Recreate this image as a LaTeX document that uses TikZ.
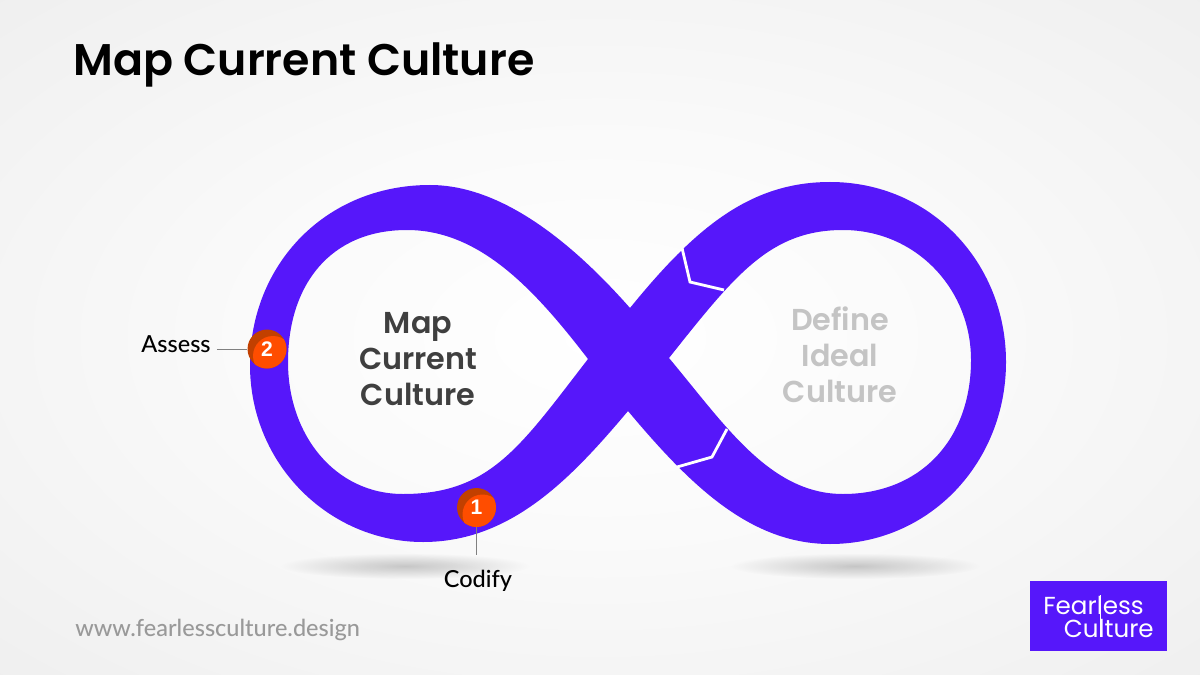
\documentclass[tikz,border=0pt]{standalone}
\usepackage{fontspec}
\setmainfont{Poppins}
\newfontfamily\headfont{Poppins SemiBold}
\newfontfamily\labelfont{Lato Medium}
\usetikzlibrary{fadings}
\definecolor{bandviolet}{HTML}{5617FA}
\definecolor{badgeorange}{HTML}{FF4D00}
\definecolor{badgedark}{HTML}{C24000}
\definecolor{palegray}{HTML}{C4C4C4}
\definecolor{darkgray}{HTML}{3F3F3F}
\pgfdeclareradialshading{softback}{\pgfpointorigin}{color(0bp)=(white); color(15bp)=(black!2); color(25bp)=(black!4); color(35bp)=(black!6); color(50bp)=(black!11); color(71bp)=(black!11)}
\tikzfading[name=softfade,inner color=transparent!0,outer color=transparent!100]
\tikzset{
    lobelabel/.style={align=center,font=\headfont\fontsize{21.5}{25.6}\selectfont},
    steplabel/.style={font=\labelfont\fontsize{16.7}{18}\selectfont,text=black,inner sep=4.3pt},
    badge/.style={circle,minimum size=27.7pt,inner sep=0pt,text=white,font=\fontspec{Liberation Sans}\bfseries\fontsize{15}{15}\selectfont},
    leader/.style={draw=gray,line width=0.6pt},
    cutline/.style={draw=white,line width=2pt},
    floorshadow/.style={fill=black,opacity=0.2,path fading=softfade},
    logotext/.style={anchor=west,inner sep=0pt,text=white,font=\fontsize{17.5}{20}\selectfont}
}
\begin{document}
\begin{tikzpicture}[x=0.025cm,y=-0.025cm]
    % background
    \useasboundingbox (0,0) rectangle (1200,675);
    \shade[shading=softback] (0,0) rectangle (1200,675);

    % shadows on the floor
    \fill[floorshadow] (405,566) ellipse (125 and 13);
    \fill[floorshadow] (855,566) ellipse (125 and 13);

    % infinity band
    \fill[bandviolet,even odd rule]
        (630,308) .. controls (570,240) and (500,185) .. (430,185)
        .. controls (325,185) and (250,265) .. (250,365)
        .. controls (250,465) and (330,542) .. (423,542)
        .. controls (510,542) and (570,480) .. (628,411)
        .. controls (690,485) and (750,544) .. (830,544)
        .. controls (930,544) and (1006,462) .. (1006,362)
        .. controls (1006,262) and (930,182) .. (830,182)
        .. controls (750,182) and (695,228) .. (630,308) -- cycle
        (588,359) .. controls (535,290) and (480,230) .. (407,230)
        .. controls (330,230) and (288,285) .. (288,362)
        .. controls (288,435) and (335,494) .. (403,494)
        .. controls (490,494) and (520,447) .. (588,359) -- cycle
        (669,358) .. controls (735,275) and (770,230) .. (843,230)
        .. controls (915,230) and (971,288) .. (971,360)
        .. controls (971,440) and (920,494) .. (843,494)
        .. controls (770,494) and (725,425) .. (669,358) -- cycle;

    % cuts between the two lobes
    \draw[cutline] (682,248) -- (690,282) -- (724,290);
    \draw[cutline] (677,467) -- (712,457) -- (727,429);

    % lobe labels
    \node[lobelabel,text=darkgray] (mapculture) at (418,359) {Map\\Current\\Culture};
    \node[lobelabel,text=palegray] (idealculture) at (840,355) {Define\\Ideal\\Culture};

    % badges
    \node[badge,fill=badgedark] (assessbadge) at (267,349) {};
    \node[badge,fill=badgedark] (codifybadge) at (476.5,507.5) {};
    \begin{scope}
        \clip (267,349) circle (19.5);
        \fill[badgeorange] (273,356) circle (20);
    \end{scope}
    \begin{scope}
        \clip (476.5,507.5) circle (19.5);
        \fill[badgeorange] (482.5,514.5) circle (20);
    \end{scope}
    \node[badge] (assessnum) at (267,349) {2};
    \node[badge] (codifynum) at (476.5,507.5) {1};

    % step labels
    \node[steplabel] (assess) at (176,344.5) {Assess};
    \node[steplabel] (codify) at (478,581) {Codify};
    \draw[leader] (assess.east |- assessbadge) -- (assessbadge);
    \draw[leader,shorten >=6.5pt] (codifybadge) -- (codifybadge |- codify.north);

    % title and footer
    \node[anchor=west,inner sep=0pt,font=\headfont\fontsize{31.5}{36}\selectfont] (title) at (73,65) {Map Current Culture};
    \node[anchor=west,inner sep=0pt,text=black!40,font=\labelfont\fontsize{16.7}{19}\selectfont] (website) at (75,630) {www.fearlessculture.design};

    % logo
    \fill[bandviolet] (1030,581) rectangle (1167,651);
    \node[logotext] (fearless) at (1043,605) {Fearless};
    \node[logotext] (culture) at (1063.5,628) {Culture};
    \draw[white,line width=1.1pt] (fearless.center -| 1100.5,0) ++(0,-10) -- ++(0,42);
\end{tikzpicture}
\end{document}
